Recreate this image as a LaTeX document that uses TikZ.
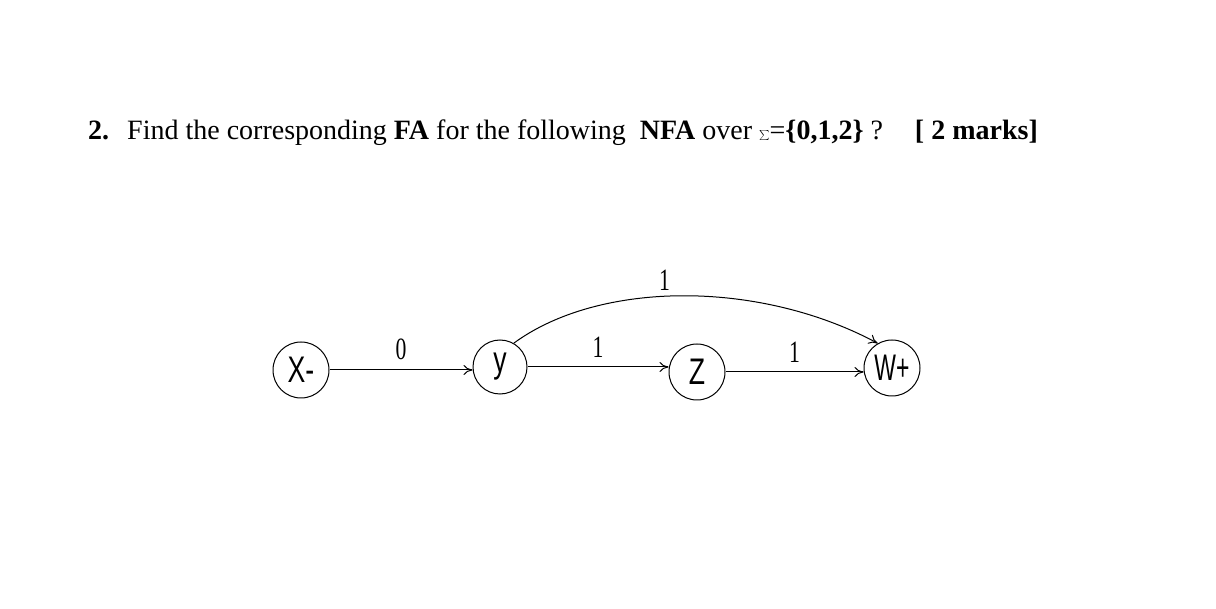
\documentclass[tikz,border=0pt]{standalone}
\usepackage{fontspec}
\usetikzlibrary{arrows.meta}
\setmainfont{Liberation Serif}
\newfontfamily\lsans{Liberation Sans}
\begin{document}
\begin{tikzpicture}[x=1pt,y=-1pt,
  st/.style={draw,circle,minimum size=56pt,inner sep=0pt,line width=1pt,font=\lsans\fontsize{37}{37}\selectfont},
  lab/.style={font=\fontsize{31}{31}\selectfont},
  ar/.style={->,>={To[length=9pt,width=10pt,open]},line width=1pt}]
\useasboundingbox (0,0) rectangle (1216,609);
\node[anchor=base west,inner sep=0pt,font=\fontsize{28}{28}\selectfont] (t) at (88,140)
 {\textbf{2.}\hspace{18pt}Find the corresponding \textbf{FA} for the following\ \ \textbf{NFA} over \raisebox{-2pt}{\fontsize{24}{24}\selectfont$\sum$}=\textbf{\{0,1,2\}} ?\hspace{32pt}\textbf{[ 2 marks]}};
\node[st] (x) at (301,370) {\scalebox{0.72}[1]{X-}};
\node[st,minimum size=54pt] (y) at (500,367) {\raisebox{-4pt}{\scalebox{0.72}[1]{y}}};
\node[st] (z) at (697,372) {\scalebox{0.72}[1]{Z}};
\node[st] (w) at (892,368) {\scalebox{0.62}[1]{W+}};
\draw[ar] (x) -- node[lab,above=6pt]{\scalebox{0.7}[1]{0}} (y.west|-x);
\draw[ar] (y.east) -- node[lab,above=6pt]{\scalebox{0.7}[1]{1}} (z.west|-y.east);
\draw[ar] (z.east) -- node[lab,above=6pt]{\scalebox{0.7}[1]{1}} (w.west|-z.east);
\draw[ar] (y.60) .. controls (600,280) and (760,280) .. node[lab,above=2pt,pos=0.45]{\scalebox{0.7}[1]{1}} (w.120);
\end{tikzpicture}
\end{document}
